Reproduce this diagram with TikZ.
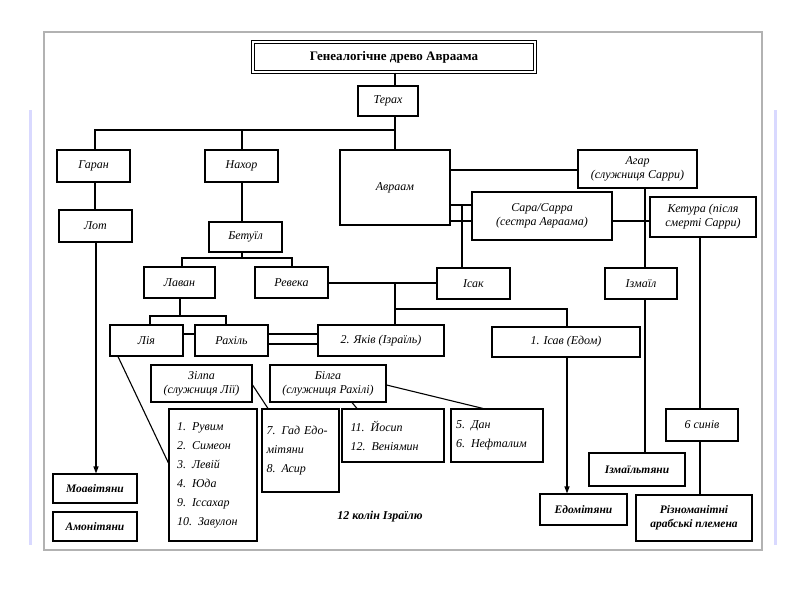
\documentclass[tikz,border=0pt]{standalone}
\usepackage{fontspec}
\setmainfont{Liberation Serif}
\usetikzlibrary{arrows.meta}
\begin{document}
\begin{tikzpicture}[x=1pt,y=-1pt,
  bx/.style={draw,line width=1.1pt,font=\itshape\fontsize{12}{14}\selectfont,align=center,inner sep=1pt},
  bb/.style={bx,font=\bfseries\itshape\fontsize{11.5}{14}\selectfont},
  ll/.style={bx,align=left,text width=#1,font=\itshape\fontsize{12}{19}\selectfont},
  ln/.style={line width=1.1pt},
  ar/.style={ln,-{Triangle[length=7pt,width=5pt]}}]
\useasboundingbox (0,0) rectangle (800,600);
\draw[gray!60,line width=1.5pt] (44,32) rectangle (762,550);
\draw[blue!15,line width=3pt] (30,110) -- (30,545) (775,110) -- (775,545);
\def\bxat#1#2#3#4#5#6{\node[#6,minimum width=#3-#1,minimum height=#4-#2] (#5) at ({(#1+#3)/2},{(#2+#4)/2})}
\bxat{253}{42}{535}{72}{title}{bx,double,double distance=1.5pt,font=\bfseries\fontsize{13}{14}\selectfont}{Генеалогічне древо Авраама};
\bxat{358}{86}{418}{116}{terah}{bx}{Терах};
\bxat{57}{150}{130}{182}{haran}{bx}{Гаран};
\bxat{205}{150}{278}{182}{nahor}{bx}{Нахор};
\bxat{340}{150}{450}{225}{abr}{bx}{Авраам};
\bxat{59}{210}{132}{242}{lot}{bx}{Лот};
\bxat{209}{222}{282}{252}{bet}{bx}{Бетуїл};
\bxat{144}{267}{215}{298}{lavan}{bx}{Лаван};
\bxat{255}{267}{328}{298}{reb}{bx}{Ревека};
\bxat{578}{150}{697}{188}{agar}{bx}{Агар\\(служниця Сарри)};
\bxat{472}{192}{612}{240}{sara}{bx}{Сара/Сарра\\(сестра Авраама)};
\bxat{650}{197}{756}{237}{ket}{bx}{Кетура (після\\смерті Сарри)};
\bxat{437}{268}{510}{299}{isak}{bx}{Ісак};
\bxat{605}{268}{677}{299}{ism}{bx}{Ізмаїл};
\bxat{110}{325}{183}{356}{lea}{bx}{Лія};
\bxat{195}{325}{268}{356}{rah}{bx}{Рахіль};
\bxat{318}{325}{444}{356}{jak}{bx}{2. Яків (Ізраїль)};
\bxat{492}{327}{640}{357}{esav}{bx}{1. Ісав (Едом)};
\bxat{151}{365}{252}{402}{zil}{bx}{Зілпа\\(служниця Лії)};
\bxat{270}{365}{386}{402}{bil}{bx}{Білга\\(служниця Рахілі)};
\bxat{169}{409}{257}{541}{s1}{ll=72pt}{1. Рувим\\2. Симеон\\3. Левій\\4. Юда\\9. Іссахар\\10. Завулон};
\bxat{262}{409}{339}{492}{s7}{ll=68pt}{7. Гад Едо-\\мітяни\\8. Асир};
\bxat{342}{409}{444}{462}{s11}{ll=85pt}{11. Йосип\\12. Веніямин};
\bxat{451}{409}{543}{462}{s5}{ll=82pt}{5. Дан\\6. Нефталим};
\bxat{666}{409}{738}{441}{six}{bx}{6 синів};
\bxat{53}{474}{137}{503}{moab}{bb}{Моавітяни};
\bxat{53}{512}{137}{541}{amon}{bb}{Амонітяни};
\bxat{540}{494}{627}{525}{edom}{bb}{Едомітяни};
\bxat{589}{453}{685}{486}{ismt}{bb}{Ізмаїльтяни};
\bxat{636}{495}{752}{541}{arab}{bb}{Різноманітні\\арабські племена};
\node[font=\bfseries\itshape\fontsize{12}{14}\selectfont] (tribes) at (380,517) {12 колін Ізраїлю};
% connectors
\draw[ln] (title.south -| 395,0) -- (terah.north -| 395,0);
\draw[ln] (terah.south -| 395,0) -- (395,130) -- (abr.north -| 395,0);
\draw[ln] (395,130) -- (95,130) -- (haran.north -| 95,0);
\draw[ln] (242,130) -- (nahor.north -| 242,0);
\draw[ln] (haran.south -| 95,0) -- (lot.north -| 95,0);
\draw[ar] (lot.south -| 96,0) -- (moab.north -| 96,0);
\draw[ln] (nahor.south -| 242,0) -- (bet.north -| 242,0);
\draw[ln] (bet.south -| 242,0) -- (242,258);
\draw[ln] (182,267) -- (182,258) -- (292,258) -- (292,267);
\draw[ln] (abr.east |- 0,170) -- (agar.west |- 0,170);
\draw[ln] (abr.east |- 0,205) -- (sara.west |- 0,205);
\draw[ln] (abr.east |- 0,221) -- (sara.west |- 0,221);
\draw[ln] (462,205) -- (isak.north -| 462,0);
\draw[ln] (sara.east |- 0,221) -- (ket.west |- 0,221);
\draw[ln] (agar.south -| 645,0) -- (ism.north -| 645,0);
\draw[ln] (ism.south -| 645,0) -- (ismt.north -| 645,0);
\draw[ln] (ket.south -| 700,0) -- (six.north -| 700,0);
\draw[ln] (six.south -| 700,0) -- (arab.north -| 700,0);
\draw[ln] (reb.east |- 0,283) -- (isak.west |- 0,283);
\draw[ln] (395,283) -- (jak.north -| 395,0);
\draw[ln] (395,309) -- (567,309) -- (esav.north -| 567,0);
\draw[ar] (esav.south -| 567,0) -- (edom.north -| 567,0);
\draw[ln] (lavan.south -| 180,0) -- (180,316);
\draw[ln] (150,325) -- (150,316) -- (226,316) -- (226,325);
\draw[ln] (lea.east |- 0,334) -- (rah.west |- 0,334);
\draw[ln] (rah.east |- 0,334) -- (jak.west |- 0,334);
\draw[ln] (rah.east |- 0,344) -- (jak.west |- 0,344);
\draw[ln] (lea.south -| 118,0) -- (s1.west |- 0,463);
\draw[ln] (zil.east |- 0,385) -- (s7.north -| 268,0);
\draw[ln] (bil.south -| 352,0) -- (s11.north -| 357,0);
\draw[ln] (bil.east |- 0,385) -- (s5.north -| 483,0);
\end{tikzpicture}
\end{document}
